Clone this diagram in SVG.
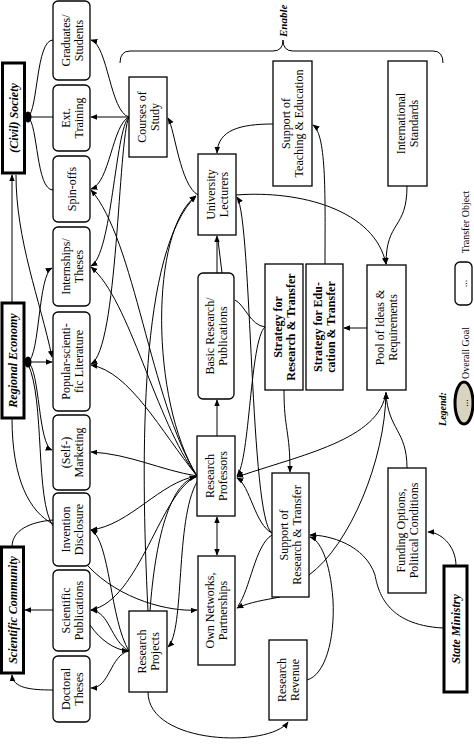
<svg xmlns="http://www.w3.org/2000/svg" width="474" height="744" viewBox="0 0 474 744">
<style>
.box{fill:#fff;stroke:#000;stroke-width:1.3}
.goal{fill:#fff;stroke:#000;stroke-width:3}
.t{font-family:"Liberation Serif",serif;font-size:12px;text-anchor:middle;dominant-baseline:central;fill:#000}
.b{font-weight:bold}
.gt{font-weight:bold;font-style:italic}
.lg{font-size:10px}
.c{fill:none;stroke:#000;stroke-width:1}
.c2{fill:none;stroke:#000;stroke-width:1;marker-end:url(#a)}
</style>
<defs>
<marker id="a" viewBox="0 0 10 10" refX="9" refY="5" markerWidth="7" markerHeight="7" markerUnits="userSpaceOnUse" orient="auto-start-reverse"><path d="M0,1 L10,5 L0,9 z" fill="#000"/></marker>
</defs>

<g id="connectors">
<path class="c" d="M120,63 Q120,51 130,51 L273,51 Q283,51 283,40 Q283,51 293,51 L433,51 Q443,51 443,63" stroke-width="1.2"/>
<path class="c2" d="M129,117 C110,112 108,45 91,40"/>
<path class="c2" d="M129,117 L91,117"/>
<path class="c2" d="M129,117 C112,125 110,183 91,189"/>
<path class="c2" d="M129,117 C115,130 112,255 91,266"/>
<path class="c2" d="M129,117 C118,140 118,350 91,364"/>
<path class="c2" d="M197,476 C150,400 135,240 91,190"/>
<path class="c2" d="M197,476 C155,420 130,300 91,267"/>
<path class="c2" d="M197,476 C160,430 130,372 91,365"/>
<path class="c2" d="M197,476 C160,470 130,454 91,452"/>
<path class="c2" d="M197,476 C160,482 130,525 91,530"/>
<path class="c2" d="M197,476 C160,492 140,600 91,610"/>
<path class="c2" d="M197,476 C150,400 150,230 196,196"/>
<path class="c2" d="M148,611 C140,450 140,250 196,196"/>
<path class="c2" d="M150,611 C155,540 170,482 196,477"/>
<path class="c2" d="M197,482 C175,520 185,630 168,647"/>
<path class="c2" d="M129,651 C110,655 110,688 91,688"/>
<path class="c2" d="M129,651 C110,640 110,612 91,610"/>
<path class="c2" d="M129,651 C110,620 110,540 91,530"/>
<path class="c2" d="M90,625 C100,640 115,650 128,651"/>
<path class="c2" d="M53,610 L25,610"/>
<path class="c2" d="M53,690 C30,690 13,688 12,675"/>
<path class="c" d="M53,40 C36,40 38,110 28,117"/>
<path class="c" d="M53,117 L28,117"/>
<path class="c" d="M53,190 C36,190 38,124 28,117"/>
<ellipse cx="28" cy="117" rx="3.5" ry="5.5" fill="#000"/>
<path class="c2" d="M28,362 C40,355 38,275 52,268"/>
<path class="c2" d="M28,362 L52,362"/>
<path class="c2" d="M28,362 C40,370 38,445 52,450"/>
<path class="c" d="M28,364 C45,400 35,500 53,526"/>
<ellipse cx="28" cy="362" rx="3.5" ry="5.5" fill="#000"/>
<path class="c2" d="M12,303 L12,175"/>
<path class="c2" d="M16,175 C16,240 40,300 52,357"/>
<path class="c" d="M12,418 C12,480 30,512 53,524"/>
<path class="c" d="M12,547 C12,530 30,522 53,520"/>
<path class="c2" d="M88,566 C120,600 170,612 197,610"/>
<path class="c2" d="M198,195 C180,185 175,130 168,118"/>
<path class="c2" d="M273,124 C240,124 218,130 217,153"/>
<path class="c2" d="M325,264 C325,200 327,135 313,125"/>
<path class="c2" d="M407,186 C407,230 386,220 386,264"/>
<path class="c2" d="M236,195 C300,190 375,210 386,264"/>
<path class="c2" d="M367,328 L344,328"/>
<path class="c2" d="M217,273 L217,236"/>
<path class="c" d="M222,273 L218,240"/>
<path class="c2" d="M217,436 L217,400"/>
<path class="c2" d="M217,517 L217,555" marker-start="url(#a)"/>
<path class="c" d="M265,327 C250,325 245,305 235,300"/>
<path class="c2" d="M265,327 C250,340 250,460 237,476"/>
<path class="c2" d="M284,390 C284,430 290,430 290,472"/>
<path class="c2" d="M272,533 C250,520 252,220 237,197"/>
<path class="c2" d="M272,533 C255,525 250,485 237,478"/>
<path class="c2" d="M280,597 C265,600 250,602 237,608"/>
<path class="c" d="M272,535 C255,545 250,590 238,606"/>
<path class="c2" d="M386,392 C380,440 300,455 237,477"/>
<path class="c2" d="M309,575 C350,545 385,460 386,393"/>
<path class="c2" d="M407,468 C407,430 388,430 386,393"/>
<path class="c2" d="M456,566 C456,545 440,532 428,532"/>
<path class="c2" d="M443,628 C385,625 378,590 375,575 C365,545 330,535 310,535"/>
<path class="c2" d="M307,680 C325,675 335,640 333,600 C330,560 320,540 310,537"/>
<path class="c2" d="M148,692 C148,745 270,748 288,722"/>
</g>

<g id="civil-society"><rect class="goal" x="2.5" y="63" width="22" height="110"/><text class="t gt" transform="translate(13.5,118) rotate(-90)">(Civil) Society</text></g>
<g id="regional-economy"><rect class="goal" x="2" y="303" width="22" height="115"/><text class="t gt" transform="translate(13,360.5) rotate(-90)">Regional Economy</text></g>
<g id="scientific-community"><rect class="goal" x="1.5" y="547" width="22" height="126"/><text class="t gt" transform="translate(12.5,610) rotate(-90)">Scientific Community</text></g>
<g id="state-ministry"><rect class="goal" x="444" y="566" width="23" height="126"/><text class="t gt" transform="translate(455.5,629) rotate(-90)">State Ministry</text></g>

<g id="graduates"><rect class="box" x="53" y="1" width="37" height="79" rx="5"/><text class="t" transform="translate(72,40.5) rotate(-90)"><tspan x="0" y="-6.5">Graduates/</tspan><tspan x="0" y="6.5">Students</tspan></text></g>
<g id="ext-training"><rect class="box" x="53" y="85" width="37" height="66" rx="5"/><text class="t" transform="translate(72,118) rotate(-90)"><tspan x="0" y="-6.5">Ext.</tspan><tspan x="0" y="6.5">Training</tspan></text></g>
<g id="spin-offs"><rect class="box" x="53" y="156" width="37" height="66" rx="5"/><text class="t" transform="translate(72,189) rotate(-90)">Spin-offs</text></g>
<g id="internships"><rect class="box" x="53" y="227" width="37" height="79" rx="5"/><text class="t" transform="translate(72,266.5) rotate(-90)"><tspan x="0" y="-6.5">Internships/</tspan><tspan x="0" y="6.5">Theses</tspan></text></g>
<g id="popular-lit"><rect class="box" x="53" y="312" width="37" height="99" rx="5"/><text class="t" transform="translate(72,361.5) rotate(-90)"><tspan x="0" y="-6.5">Popular-scienti-</tspan><tspan x="0" y="6.5">fic Literature</tspan></text></g>
<g id="self-marketing"><rect class="box" x="53" y="415" width="37" height="75" rx="5"/><text class="t" transform="translate(72,452.5) rotate(-90)"><tspan x="0" y="-6.5">(Self-)</tspan><tspan x="0" y="6.5">Marketing</tspan></text></g>
<g id="invention-disclosure"><rect class="box" x="53" y="493" width="37" height="73" rx="5"/><text class="t" transform="translate(72,529.5) rotate(-90)"><tspan x="0" y="-6.5">Invention</tspan><tspan x="0" y="6.5">Disclosure</tspan></text></g>
<g id="scientific-publications"><rect class="box" x="53" y="570" width="37" height="81" rx="5"/><text class="t" transform="translate(72,610.5) rotate(-90)"><tspan x="0" y="-6.5">Scientific</tspan><tspan x="0" y="6.5">Publications</tspan></text></g>
<g id="doctoral-theses"><rect class="box" x="53" y="656" width="37" height="66" rx="5"/><text class="t" transform="translate(72,689) rotate(-90)"><tspan x="0" y="-6.5">Doctoral</tspan><tspan x="0" y="6.5">Theses</tspan></text></g>

<g id="courses-of-study"><rect class="box" x="129" y="77" width="38" height="80"/><text class="t" transform="translate(148,117) rotate(-90)"><tspan x="0" y="-6.5">Courses of</tspan><tspan x="0" y="6.5">Study</tspan></text></g>
<g id="research-projects"><rect class="box" x="129" y="611" width="38" height="81"/><text class="t" transform="translate(148,651.5) rotate(-90)"><tspan x="0" y="-6.5">Research</tspan><tspan x="0" y="6.5">Projects</tspan></text></g>
<g id="university-lecturers"><rect class="box" x="198" y="154" width="38" height="81"/><text class="t" transform="translate(217,194.5) rotate(-90)"><tspan x="0" y="-6.5">University</tspan><tspan x="0" y="6.5">Lecturers</tspan></text></g>
<g id="basic-research"><rect class="box" x="198" y="273" width="36" height="126" rx="5"/><text class="t" transform="translate(216,336) rotate(-90)"><tspan x="0" y="-6.5">Basic Research/</tspan><tspan x="0" y="6.5">Publications</tspan></text></g>
<g id="research-professors"><rect class="box" x="197" y="436" width="38" height="80"/><text class="t" transform="translate(216,476) rotate(-90)"><tspan x="0" y="-6.5">Research</tspan><tspan x="0" y="6.5">Professors</tspan></text></g>
<g id="own-networks"><rect class="box" x="198" y="556" width="37" height="109"/><text class="t" transform="translate(216.5,610.5) rotate(-90)"><tspan x="0" y="-6.5">Own Networks,</tspan><tspan x="0" y="6.5">Partnerships</tspan></text></g>
<g id="support-teaching"><rect class="box" x="273" y="61" width="39" height="125"/><text class="t" transform="translate(292.5,123.5) rotate(-90)"><tspan x="0" y="-6.5">Support of</tspan><tspan x="0" y="6.5">Teaching &amp; Education</tspan></text></g>
<g id="strategy-research"><rect class="box" x="265" y="264" width="38" height="126"/><text class="t b" transform="translate(284,327) rotate(-90)"><tspan x="0" y="-6.5">Strategy for</tspan><tspan x="0" y="6.5">Research &amp; Transfer</tspan></text></g>
<g id="strategy-education"><rect class="box" x="306" y="264" width="37" height="126"/><text class="t b" transform="translate(324.5,327) rotate(-90)"><tspan x="0" y="-6.5">Strategy for Edu-</tspan><tspan x="0" y="6.5">cation &amp; Transfer</tspan></text></g>
<g id="support-research"><rect class="box" x="272" y="473" width="37" height="124"/><text class="t" transform="translate(290.5,535) rotate(-90)"><tspan x="0" y="-6.5">Support of</tspan><tspan x="0" y="6.5">Research &amp; Transfer</tspan></text></g>
<g id="research-revenue"><rect class="box" x="269" y="640" width="38" height="80"/><text class="t" transform="translate(288,680) rotate(-90)"><tspan x="0" y="-6.5">Research</tspan><tspan x="0" y="6.5">Revenue</tspan></text></g>
<g id="pool-of-ideas"><rect class="box" x="367" y="265" width="39" height="125"/><text class="t" transform="translate(386.5,327.5) rotate(-90)"><tspan x="0" y="-6.5">Pool of Ideas &amp;</tspan><tspan x="0" y="6.5">Requirements</tspan></text></g>
<g id="international-standards"><rect class="box" x="388" y="61" width="39" height="125"/><text class="t" transform="translate(407.5,123.5) rotate(-90)"><tspan x="0" y="-6.5">International</tspan><tspan x="0" y="6.5">Standards</tspan></text></g>
<g id="funding-options"><rect class="box" x="388" y="468" width="38" height="125"/><text class="t" transform="translate(407,530.5) rotate(-90)"><tspan x="0" y="-6.5">Funding Options,</tspan><tspan x="0" y="6.5">Political Conditions</tspan></text></g>

<g id="enablers-label"><text class="t gt" style="text-anchor:start;font-size:11px" transform="translate(283,37) rotate(-90)">Enable</text></g>

<g id="legend">
<text class="t gt lg" transform="translate(442,409) rotate(-90)">Legend:</text>
<ellipse cx="464" cy="403" rx="9" ry="21" fill="#d9d4c0" stroke="#000" stroke-width="3"/>
<text class="t lg" transform="translate(464,403) rotate(-90)">...</text>
<text class="t lg" transform="translate(465,353) rotate(-90)">Overall Goal</text>
<rect class="box" x="455" y="262" width="17" height="43" rx="5"/>
<text class="t lg" transform="translate(463.5,283.5) rotate(-90)">...</text>
<text class="t lg" transform="translate(465,222) rotate(-90)">Transfer Object</text>
</g>
</svg>
